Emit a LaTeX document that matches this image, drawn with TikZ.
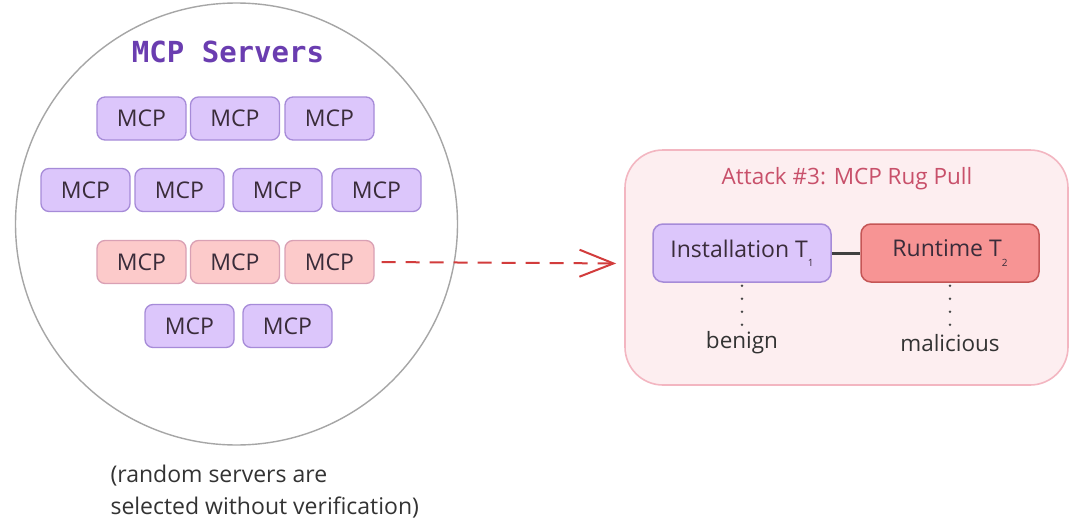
\documentclass[tikz,border=0pt]{standalone}
\usepackage{fontspec}
\setmainfont{Open Sans}
\setmonofont{DejaVu Sans Mono}
\usetikzlibrary{arrows.meta}
\definecolor{mcpfill}{HTML}{DCC6FB}
\definecolor{mcpdraw}{HTML}{A68BD8}
\definecolor{redfill}{HTML}{FCCACA}
\definecolor{reddraw}{HTML}{D9A0B4}
\definecolor{rtfill}{HTML}{F79494}
\definecolor{rtdraw}{HTML}{C55656}
\definecolor{panelfill}{HTML}{FDEEF0}
\definecolor{paneldraw}{HTML}{F3B6C1}
\definecolor{titlered}{HTML}{C8506A}
\definecolor{titlepurple}{HTML}{6A3DB0}
\definecolor{arrowred}{HTML}{D23C3C}
\definecolor{txt}{HTML}{333333}
\definecolor{boxtxt}{HTML}{3A2C3A}
\tikzset{
  mcpbox/.style={draw=mcpdraw, fill=mcpfill, line width=1.3pt, rounded corners=8pt,
    minimum width=89pt, minimum height=43pt, inner sep=0pt,
    font=\fontsize{23}{26}\selectfont, text=boxtxt},
  mcpred/.style={mcpbox, draw=reddraw, fill=redfill},
  phase/.style={line width=1.5pt, rounded corners=10pt, minimum width=178pt,
    minimum height=58pt, inner sep=0pt, font=\fontsize{23}{26}\selectfont, text=boxtxt},
  lbl/.style={font=\fontsize{22.5}{26}\selectfont, text=txt},
  dotline/.style={draw=txt!90, line width=2.6pt, line cap=round, dash pattern=on 0pt off 13pt},
}
\begin{document}
\begin{tikzpicture}[x=1pt,y=-1pt]
\useasboundingbox[fill=white] (0,0) rectangle (1080,530);
% circle
\draw[draw=black!35, line width=1.4pt] (236.5,224) circle[radius=221];
\node[font=\ttfamily\bfseries\fontsize{29}{32}\selectfont, text=titlepurple] (title) at (228,52) {MCP Servers};
% row 1
\node[mcpbox] (a1) at (141.5,118.5) {MCP};
\node[mcpbox] (a2) at (235,118.5) {MCP};
\node[mcpbox] (a3) at (329.5,118.5) {MCP};
% row 2
\node[mcpbox] (b1) at (85.5,190) {MCP};
\node[mcpbox] (b2) at (179.5,190) {MCP};
\node[mcpbox] (b3) at (277.5,190) {MCP};
\node[mcpbox] (b4) at (376.5,190) {MCP};
% row 3
\node[mcpred] (c1) at (141.5,262) {MCP};
\node[mcpred] (c2) at (235,262) {MCP};
\node[mcpred] (c3) at (329.5,262) {MCP};
% row 4
\node[mcpbox] (d1) at (189.5,326) {MCP};
\node[mcpbox] (d2) at (287.5,326) {MCP};
% caption
\node[lbl, anchor=west, align=left, font=\fontsize{23}{32}\selectfont] (cap) at (107,492)
  {(random servers are\\selected without verification)};
% panel
\node[draw=paneldraw, fill=panelfill, line width=1.6pt, rounded corners=38pt,
  minimum width=443pt, minimum height=235pt, inner sep=0pt] (panel) at (846.5,267.5) {};
\node[font=\fontsize{22.5}{24}\selectfont, text=titlered] (ptitle) at (847,179) {Attack \#3: MCP Rug Pull};
\node[phase, draw=mcpdraw, fill=mcpfill] (inst) at (742,253)
  {Installation T\raisebox{-0.4em}{\fontsize{10}{11}\selectfont 1}};
\node[phase, draw=rtdraw, fill=rtfill] (rt) at (950,253)
  {Runtime T\raisebox{-0.4em}{\fontsize{10}{11}\selectfont 2}};
\draw[draw=black!75, line width=3pt] (inst.east) -- (rt.west);
\node[lbl] (benign) at (742,343) {benign};
\node[lbl] (mal) at (950,343) {malicious};
\draw[dotline] ([yshift=-3pt]inst.south) -- ([yshift=-1pt]benign.north);
\draw[dotline] ([yshift=-3pt]rt.south) -- ([yshift=-1pt]mal.north);
% arrow
\draw[draw=arrowred, line width=2pt, dash pattern=on 14pt off 10pt,
  shorten <=7pt, shorten >=8pt,
  -{Straight Barb[length=34pt,width=27pt,line width=2pt]}]
  (c3.east) -- ([yshift=4pt]panel.west);
\end{tikzpicture}
\end{document}
